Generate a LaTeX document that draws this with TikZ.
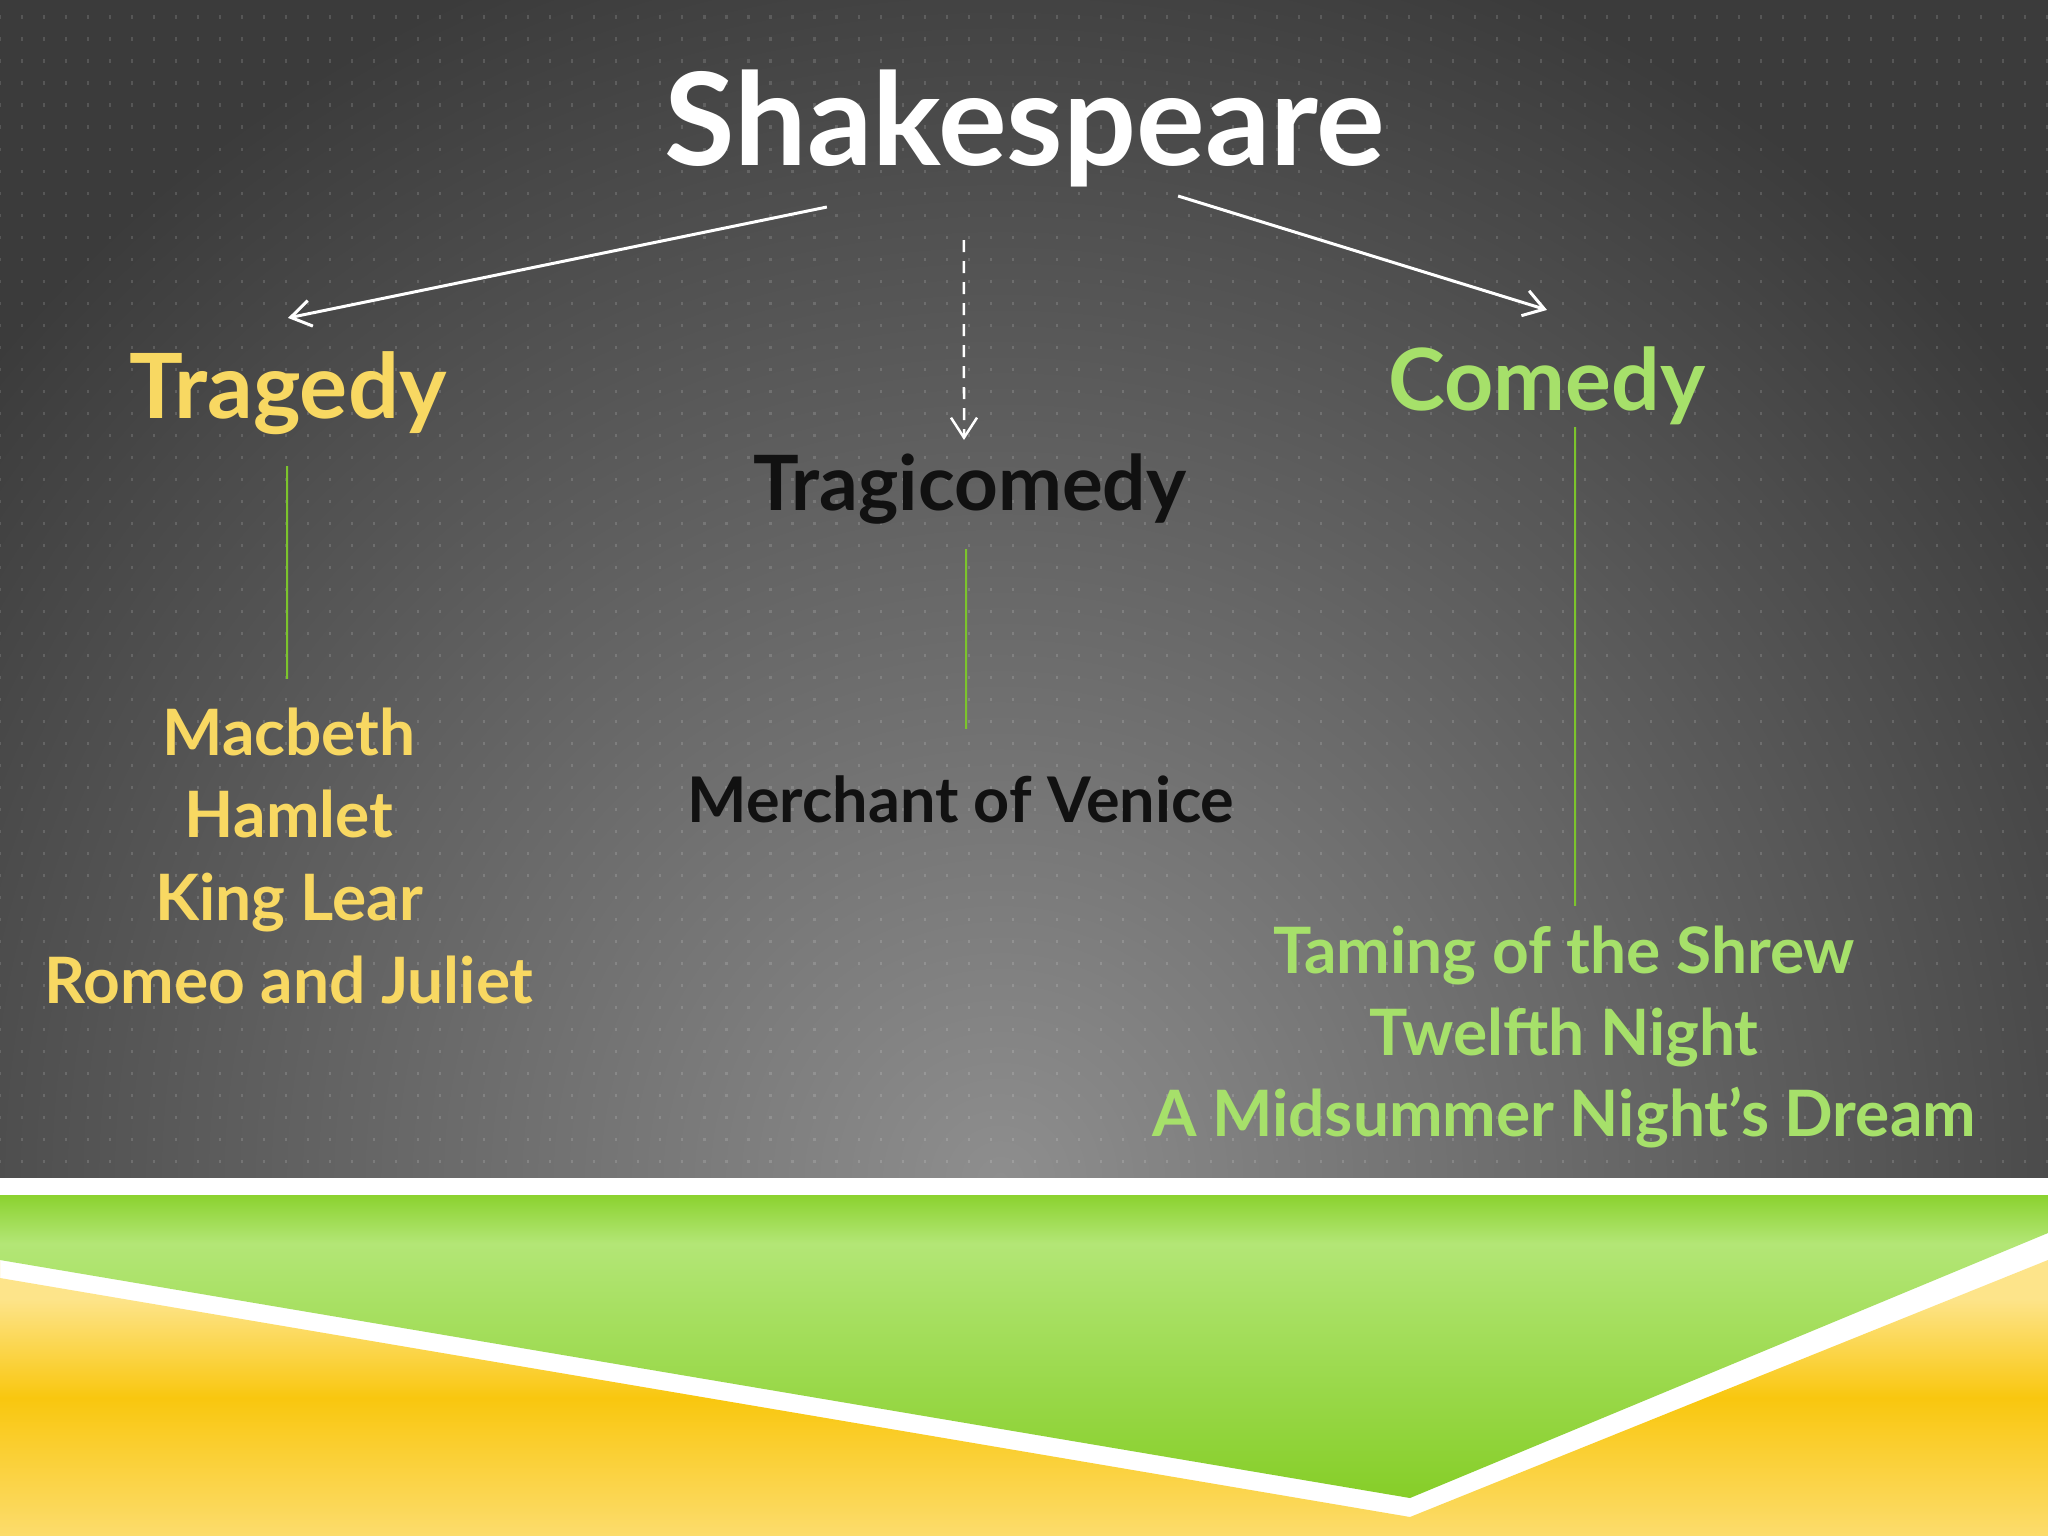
\documentclass[tikz,border=0pt]{standalone}
\usepackage{fontspec}
\setmainfont{Lato}
\usetikzlibrary{arrows.meta,patterns}
\definecolor{bgdark}{HTML}{3B3B3B}
\definecolor{bglight}{HTML}{8E8E8E}
\definecolor{tyellow}{HTML}{F8D862}
\definecolor{tgreen}{HTML}{A6E06A}
\definecolor{tblack}{HTML}{111111}
\definecolor{lgreen}{HTML}{7CC42C}
\definecolor{gtop}{HTML}{8BD22F}
\definecolor{glight}{HTML}{B3E676}
\definecolor{gbot}{HTML}{86CE28}
\definecolor{ytop}{HTML}{FDE48A}
\definecolor{ymid}{HTML}{F9C70F}
\definecolor{ybot}{HTML}{FCDC6C}
\pgfdeclareverticalshading{greensh}{100bp}{color(0bp)=(gbot); color(25bp)=(gbot); color(67bp)=(glight); color(75bp)=(gtop); color(100bp)=(gtop)}
\pgfdeclareverticalshading{yellowsh}{100bp}{color(0bp)=(ybot); color(25bp)=(ybot); color(50bp)=(ymid); color(68bp)=(ytop); color(75bp)=(ytop); color(100bp)=(ytop)}
\pgfdeclarepatternformonly{gdots}{\pgfqpoint{-1pt}{-1pt}}{\pgfqpoint{1pt}{1pt}}{\pgfqpoint{6.26pt}{6.26pt}}{\pgfpathrectangle{\pgfqpoint{-0.3pt}{-0.45pt}}{\pgfqpoint{0.6pt}{0.9pt}}\pgfusepath{fill}}
\tikzset{
  lbl/.style={inner sep=0pt, anchor=base},
  title/.style={lbl, text=white, font=\bfseries\fontsize{36.6}{40}\selectfont},
  headY/.style={lbl, text=tyellow, font=\bfseries\fontsize{25.6}{28}\selectfont},
  headG/.style={lbl, text=tgreen, font=\bfseries\fontsize{24.4}{28}\selectfont},
  headK/.style={lbl, text=tblack, font=\bfseries\fontsize{21.7}{26}\selectfont},
  itemY/.style={lbl, text=tyellow, font=\bfseries\fontsize{18.2}{20}\selectfont},
  itemG/.style={lbl, text=tgreen, font=\bfseries\fontsize{18.2}{20}\selectfont},
  itemK/.style={lbl, text=tblack, font=\bfseries\fontsize{17.9}{22}\selectfont},
  warrow/.style={white, line width=0.03cm, -{Straight Barb[length=0.2cm,width=0.26cm]}},
  glink/.style={lgreen, line width=0.02cm}
}
\begin{document}
\begin{tikzpicture}[x=0.01cm,y=-0.01cm]
\useasboundingbox (0,0) rectangle (2048,1536);
% background
\fill[bgdark] (0,0) rectangle (2048,1178);
\begin{scope}
\clip (0,0) rectangle (2048,1178);
\shade[inner color=bglight, outer color=bgdark] (1000,1180) circle (13cm);
\end{scope}
\fill[pattern=gdots, pattern color=white, opacity=0.14] (0,0) rectangle (2048,1178);
% bottom band
\fill[white] (0,1178) rectangle (2048,1536);
\shade[shading=greensh] (0,1195) -- (2048,1195) -- (2048,1233) -- (1410,1498) -- (0,1260) -- cycle;
\shade[shading=yellowsh] (0,1260) -- (0,1278) -- (1410,1517) -- (2048,1260) -- (2048,1536) -- (0,1536) -- cycle;
% texts
\node[title] (shak) at (1025,165) {Shakespeare};
\node[headY] (trag) at (288,418) {Tragedy};
\node[headG] (com) at (1547,410) {Comedy};
\node[headK] (tc) at (970,510) {Tragicomedy};
\node[itemY] (mac) at (289,755) {Macbeth};
\node[itemY] (ham) at (289,837) {Hamlet};
\node[itemY] (lear) at (289,920) {King Lear};
\node[itemY] (rom) at (289,1003) {Romeo and Juliet};
\node[itemK] (mer) at (961,822) {Merchant of Venice};
\node[itemG] (tam) at (1564,973) {Taming of the Shrew};
\node[itemG] (twe) at (1564,1055) {Twelfth Night};
\node[itemG] (mid) at (1564,1136) {A Midsummer Night’s Dream};
% connectors
\draw[warrow] ([xshift=-1.98cm,yshift=-0.42cm]shak.base) -- ([yshift=1.0cm]trag.base);
\draw[warrow] ([xshift=1.53cm,yshift=-0.31cm]shak.base) -- ([yshift=1.0cm]com.base);
\draw[warrow, line width=0.025cm, dash pattern=on 0.12cm off 0.09cm] ([xshift=-0.61cm,yshift=-0.75cm]shak.base) -- ([xshift=-0.06cm,yshift=0.7cm]tc.base);
\draw[glink] ([xshift=-0.01cm,yshift=-0.48cm]trag.base) -- ([xshift=-0.02cm,yshift=0.76cm]mac.base);
\draw[glink] ([xshift=-0.04cm,yshift=-0.39cm]tc.base) -- ([xshift=0.05cm,yshift=0.93cm]mer.base);
\draw[glink] ([xshift=0.28cm,yshift=-0.17cm]com.base) -- ([xshift=0.11cm,yshift=0.67cm]tam.base);
\end{tikzpicture}
\end{document}
